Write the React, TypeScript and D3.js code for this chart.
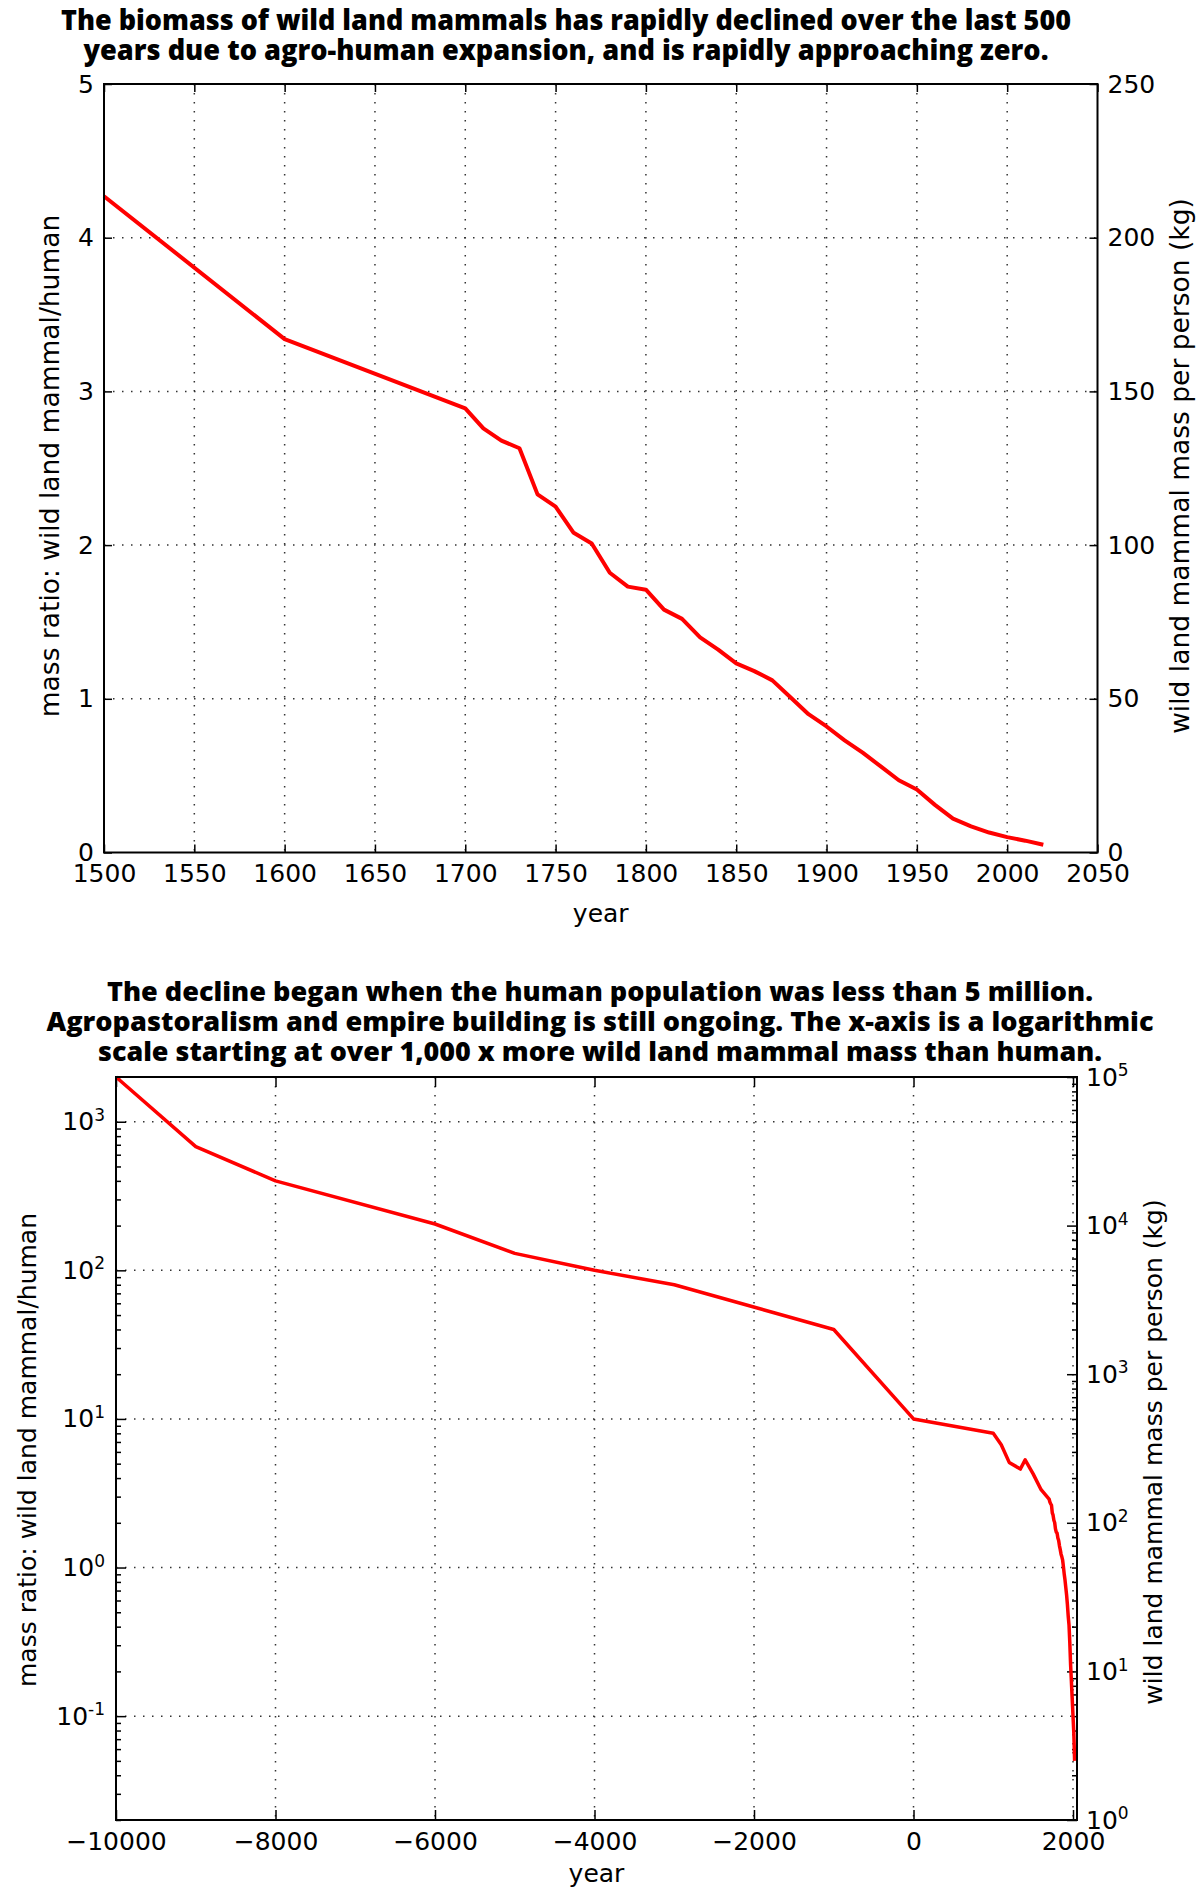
import { useEffect, useRef } from 'react';
import * as d3 from 'd3';

// ratio of wild land mammal mass to human mass, 1500 onwards (both panels)
const recentYears = [
  1500, 1600, 1700, 1710, 1720, 1730, 1740, 1750, 1760, 1770, 1780, 1790, 1800, 1810, 1820, 1830,
  1840, 1850, 1860, 1870, 1880, 1890, 1900, 1910, 1920, 1930, 1940, 1950, 1960, 1970, 1980, 1990,
  2000, 2010, 2020
];
const recentRatio = [
  4.27, 3.34, 2.89, 2.76, 2.68, 2.63, 2.33, 2.25, 2.08, 2.01, 1.82, 1.73, 1.71, 1.58, 1.52, 1.4,
  1.32, 1.23, 1.18, 1.12, 1.01, 0.9, 0.82, 0.73, 0.65, 0.56, 0.47, 0.41, 0.31, 0.22, 0.17, 0.13,
  0.1, 0.077, 0.05
];

// earlier history, only in the log panel
const earlyYears = [-10000, -9000, -8000, -6000, -5000, -4000, -3000, -1000, 0, 1000, 1100, 1200, 1340, 1400];
const earlyRatio = [2000, 680, 400, 205, 130, 100, 80, 40, 10, 8, 6.7, 5.1, 4.6, 5.3];

// kg of wild land mammal per person = ratio * 50 kg
const kgPerHuman = 50;

const topXTicks = d3.range(1500, 2051, 50);
const topYTicks = [0, 1, 2, 3, 4, 5];
const topKgTicks = [0, 50, 100, 150, 200, 250];
const logXTicks = d3.range(-10000, 2001, 2000);
const logYTicks = [0.1, 1, 10, 100, 1000];
const logKgTicks = [1, 10, 100, 1000, 10000, 100000];

const topTitle = [
  'The biomass of wild land mammals has rapidly declined over the last 500',
  'years due to agro-human expansion, and is rapidly approaching zero.'
];
const logTitle = [
  'The decline began when the human population was less than 5 million.',
  'Agropastoralism and empire building is still ongoing. The x-axis is a logarithmic',
  'scale starting at over 1,000 x more wild land mammal mass than human.'
];
const ratioLabel = 'mass ratio: wild land mammal/human';
const kgLabel = 'wild land mammal mass per person (kg)';

const W = 1200;
const H = 1897;
const tickFont = '"DejaVu Sans", sans-serif';
const titleFont = '"Open Sans", sans-serif';

function minorTicks(lo: number, hi: number) {
  const out: number[] = [];
  for (let k = Math.floor(Math.log10(lo)); k <= Math.ceil(Math.log10(hi)); k++) {
    for (let m = 2; m <= 9; m++) {
      const v = m * Math.pow(10, k);
      if (v >= lo && v <= hi) out.push(v);
    }
  }
  return out;
}

export default function App() {
  const svgRef = useRef<SVGSVGElement>(null);

  useEffect(() => {
    if (!svgRef.current) return;
    const svg = d3.select(svgRef.current);
    svg.selectAll('*').remove();
    svg.attr('width', W).attr('height', H);
    svg.append('rect').attr('width', W).attr('height', H).attr('fill', 'white');

    const styleAxis = (g: any) => {
      g.select('.domain').remove();
      g.attr('font-family', tickFont).attr('font-size', 25);
      g.selectAll('.tick line').attr('stroke', 'black').attr('stroke-width', 1.5);
      g.selectAll('.tick text').attr('fill', 'black');
    };

    const superscript = (g: any) => {
      g.selectAll('.tick text').each(function (this: SVGTextElement, d: any) {
        const t = d3.select(this);
        t.text(null);
        t.append('tspan').text('10');
        t.append('tspan')
          .attr('dy', '-0.55em')
          .attr('font-size', 17)
          .text(String(Math.round(Math.log10(d))));
      });
    };

    const title = (lines: string[], cx: number, y0: number, size: number, lengths: number[]) => {
      lines.forEach((line, i) => {
        svg
          .append('text')
          .attr('x', cx)
          .attr('y', y0 + i * 30)
          .attr('text-anchor', 'middle')
          .attr('font-family', titleFont)
          .attr('font-weight', 800)
          .attr('font-size', size)
          .attr('textLength', lengths[i])
          .attr('lengthAdjust', 'spacingAndGlyphs')
          .text(line);
      });
    };

    const vLabel = (text: string, x: number, y: number, size: number) => {
      svg
        .append('text')
        .attr('transform', `translate(${x},${y}) rotate(-90)`)
        .attr('text-anchor', 'middle')
        .attr('font-family', tickFont)
        .attr('font-size', size)
        .text(text);
    };

    const grid = (g: any, xs: number[], ys: number[], box: any) => {
      g.selectAll('line.gx')
        .data(xs)
        .enter()
        .append('line')
        .attr('x1', (d: number) => d)
        .attr('x2', (d: number) => d)
        .attr('y1', box.top)
        .attr('y2', box.bottom)
        .attr('stroke', '#333')
        .attr('stroke-width', 1.5)
        .attr('stroke-dasharray', '1.5,7.5');
      g.selectAll('line.gy')
        .data(ys)
        .enter()
        .append('line')
        .attr('x1', box.left)
        .attr('x2', box.right)
        .attr('y1', (d: number) => d)
        .attr('y2', (d: number) => d)
        .attr('stroke', '#333')
        .attr('stroke-width', 1.5)
        .attr('stroke-dasharray', '1.5,7.5');
    };

    // ---------- top panel: linear ----------
    const a = { left: 104, right: 1097.5, top: 84, bottom: 852.5 };
    const x1 = d3.scaleLinear().domain([1500, 2050]).range([a.left, a.right]);
    const y1 = d3.scaleLinear().domain([0, 5]).range([a.bottom, a.top]);
    const y1kg = d3.scaleLinear().domain([0, 250]).range([a.bottom, a.top]);

    title(topTitle, 566, 30, 28, [1010, 965]);

    const gA = svg.append('g');
    grid(
      gA,
      topXTicks.slice(1, -1).map((d) => x1(d)),
      topYTicks.slice(1, -1).map((d) => y1(d)),
      a
    );

    gA.append('g')
      .attr('transform', `translate(0,${a.bottom})`)
      .call(d3.axisBottom(x1).tickValues(topXTicks).tickSizeInner(-8).tickSizeOuter(0).tickPadding(12).tickFormat(d3.format('d')))
      .call(styleAxis);
    gA.append('g')
      .attr('transform', `translate(0,${a.top})`)
      .call(d3.axisTop(x1).tickValues(topXTicks).tickSizeInner(-8).tickSizeOuter(0).tickFormat(() => ''))
      .call(styleAxis);
    gA.append('g')
      .attr('transform', `translate(${a.left},0)`)
      .call(d3.axisLeft(y1).tickValues(topYTicks).tickSizeInner(-8).tickSizeOuter(0).tickPadding(10).tickFormat(d3.format('d')))
      .call(styleAxis);
    gA.append('g')
      .attr('transform', `translate(${a.right},0)`)
      .call(d3.axisRight(y1kg).tickValues(topKgTicks).tickSizeInner(-8).tickSizeOuter(0).tickPadding(10).tickFormat(d3.format('d')))
      .call(styleAxis);

    const lineA = d3
      .line<number>()
      .x((_, i) => x1(recentYears[i]))
      .y((d) => y1(d));
    gA.append('path')
      .attr('d', lineA(recentRatio))
      .attr('fill', 'none')
      .attr('stroke', '#ff0000')
      .attr('stroke-width', 4)
      .attr('stroke-linejoin', 'round');

    gA.append('rect')
      .attr('x', a.left)
      .attr('y', a.top)
      .attr('width', a.right - a.left)
      .attr('height', a.bottom - a.top)
      .attr('fill', 'none')
      .attr('stroke', 'black')
      .attr('stroke-width', 2);

    vLabel(ratioLabel, 59, 466, 26.5);
    vLabel(kgLabel, 1189, 466, 26.5);
    svg
      .append('text')
      .attr('x', (a.left + a.right) / 2)
      .attr('y', 922)
      .attr('text-anchor', 'middle')
      .attr('font-family', tickFont)
      .attr('font-size', 25)
      .text('year');

    // ---------- bottom panel: log ----------
    const b = { left: 116, right: 1077, top: 1077, bottom: 1820 };
    const x2 = d3.scaleLinear().domain([-10000, 2050]).range([b.left, b.right]);
    const y2 = d3.scaleLog().domain([0.02, 2000]).range([b.bottom, b.top]);
    const y2kg = d3.scaleLog().domain([0.02 * kgPerHuman, 2000 * kgPerHuman]).range([b.bottom, b.top]);

    title(logTitle, 600, 1001, 27, [986, 1107, 1004]);

    const gB = svg.append('g');
    grid(
      gB,
      logXTicks.slice(1).map((d) => x2(d)),
      logYTicks.map((d) => y2(d)),
      b
    );

    gB.append('g')
      .attr('transform', `translate(0,${b.bottom})`)
      .call(d3.axisBottom(x2).tickValues(logXTicks).tickSizeInner(-10).tickSizeOuter(0).tickPadding(12).tickFormat(d3.format('d')))
      .call(styleAxis);
    gB.append('g')
      .attr('transform', `translate(0,${b.top})`)
      .call(d3.axisTop(x2).tickValues(logXTicks).tickSizeInner(-10).tickSizeOuter(0).tickFormat(() => ''))
      .call(styleAxis);

    gB.append('g')
      .attr('transform', `translate(${b.left},0)`)
      .call(d3.axisLeft(y2).tickValues(minorTicks(0.02, 2000)).tickSizeInner(-5).tickSizeOuter(0).tickFormat(() => ''))
      .call(styleAxis);
    gB.append('g')
      .attr('transform', `translate(${b.left},0)`)
      .call(d3.axisLeft(y2).tickValues(logYTicks).tickSizeInner(-10).tickSizeOuter(0).tickPadding(11))
      .call(styleAxis)
      .call(superscript);

    gB.append('g')
      .attr('transform', `translate(${b.right},0)`)
      .call(d3.axisRight(y2kg).tickValues(minorTicks(1, 100000)).tickSizeInner(-5).tickSizeOuter(0).tickFormat(() => ''))
      .call(styleAxis);
    gB.append('g')
      .attr('transform', `translate(${b.right},0)`)
      .call(d3.axisRight(y2kg).tickValues(logKgTicks).tickSizeInner(-10).tickSizeOuter(0).tickPadding(9))
      .call(styleAxis)
      .call(superscript);

    const allYears = earlyYears.concat(recentYears);
    const allRatio = earlyRatio.concat(recentRatio);
    const lineB = d3
      .line<number>()
      .x((_, i) => x2(allYears[i]))
      .y((d) => y2(d));
    gB.append('path')
      .attr('d', lineB(allRatio))
      .attr('fill', 'none')
      .attr('stroke', '#ff0000')
      .attr('stroke-width', 3.5)
      .attr('stroke-linejoin', 'round');

    gB.append('rect')
      .attr('x', b.left)
      .attr('y', b.top)
      .attr('width', b.right - b.left)
      .attr('height', b.bottom - b.top)
      .attr('fill', 'none')
      .attr('stroke', 'black')
      .attr('stroke-width', 2);

    vLabel(ratioLabel, 36, 1450, 25);
    vLabel(kgLabel, 1162, 1452, 25);
    svg
      .append('text')
      .attr('x', (b.left + b.right) / 2)
      .attr('y', 1882)
      .attr('text-anchor', 'middle')
      .attr('font-family', tickFont)
      .attr('font-size', 25)
      .text('year');
  }, []);

  return (
    <div style={{ position: 'absolute', left: 0, top: 0 }}>
      <svg ref={svgRef} style={{ display: 'block' }}></svg>
    </div>
  );
}
